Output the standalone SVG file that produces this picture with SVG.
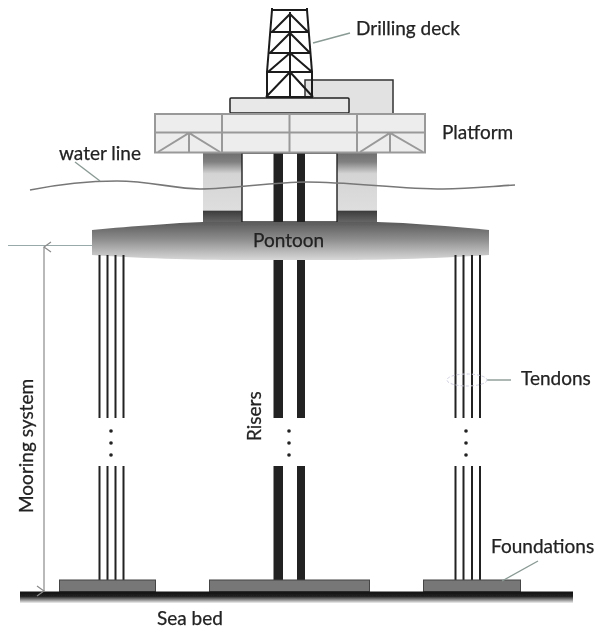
<svg xmlns="http://www.w3.org/2000/svg" width="600" height="635" viewBox="0 0 600 635">
<style>
text{font-family:"Lato","Carlito","Liberation Sans",sans-serif;font-size:19px;fill:#222;stroke:#222;stroke-width:.25}
.ten{stroke:#222;stroke-width:2;fill:none}
.rise{fill:#222}
.lead{stroke:#8a9a94;stroke-width:1.4;fill:none}
.plat{stroke:#999;stroke-width:2;fill:none}
.der{stroke:#1a1a1a;stroke-width:2;fill:none}
.found{fill:#777;stroke:#444;stroke-width:1}
.dot{fill:#222}
</style>
<defs>
<filter id="soft" x="0" y="0" width="600" height="635" filterUnits="userSpaceOnUse"><feGaussianBlur stdDeviation="0.45"/></filter>
<linearGradient id="col" x1="0" y1="0" x2="0" y2="1">
<stop offset="0" stop-color="#6f6f6f"/><stop offset=".13" stop-color="#808080"/><stop offset=".3" stop-color="#d4d4d4"/><stop offset=".83" stop-color="#dedede"/><stop offset=".84" stop-color="#3c3c3c"/><stop offset="1" stop-color="#666"/>
</linearGradient>
<linearGradient id="pon" x1="0" y1="0" x2="0" y2="1">
<stop offset="0" stop-color="#5a5a5a"/><stop offset=".45" stop-color="#8c8c8c"/><stop offset="1" stop-color="#d8d8d8"/>
</linearGradient>
<linearGradient id="bed" x1="0" y1="0" x2="0" y2="1">
<stop offset="0" stop-color="#111"/><stop offset=".4" stop-color="#222"/><stop offset="1" stop-color="#fff"/>
</linearGradient>
<marker id="open" markerWidth="12" markerHeight="12" refX="6" refY="1" orient="auto-start-reverse" markerUnits="userSpaceOnUse" viewBox="0 0 12 12">
<path d="M1 8L6 1L11 8" fill="none" stroke="#8a8a8a" stroke-width="1.2"/>
</marker>
</defs>
<g filter="url(#soft)">
<g id="back-box"><rect x="305" y="80" width="88" height="34" fill="#e2e2e2" stroke="#333" stroke-width="1.5"/></g>
<g id="derrick">
<path class="der" d="M272 8V10L267 72V97M307 8V10L312 72V97M272 10H307M270 32H309M268 53H311M266 72H313M266 97H313M290 12V97M290 14L272 32M290 14L308 32M290 33L270 53M290 33L310 53M290 53L268 72M290 53L312 72M290 72L266 97M290 72L313 97"/>
</g>
<g id="upper-deck"><rect x="230" y="98" width="119" height="15" rx="1" fill="#e8e8e8" stroke="#222" stroke-width="1.5"/></g>
<g id="columns">
<rect x="203" y="153" width="39" height="69" fill="url(#col)"/>
<rect x="337" y="153" width="40" height="69" fill="url(#col)"/>
<rect x="242" y="153" width="95" height="69" fill="#fff" stroke="#222" stroke-width="1.4"/>
</g>
<g id="risers">
<rect class="rise" x="273.500" y="153" width="9.500" height="265"/>
<rect class="rise" x="297" y="153" width="8" height="265"/>
<rect class="rise" x="273.500" y="466" width="9.500" height="114"/>
<rect class="rise" x="297" y="466" width="8" height="114"/>
<circle class="dot" cx="289" cy="431" r="1.800"/><circle class="dot" cx="289" cy="443" r="1.800"/><circle class="dot" cx="289" cy="455" r="1.800"/>
</g>
<g id="platform">
<rect x="155" y="114" width="270" height="38.500" fill="#ededed" stroke="#999" stroke-width="2"/>
<path class="plat" d="M155 132.500H425M222 114V152M289.500 114V152M357 114V152M189 133V152M158 152L189 133L220 152M390 133V152M360 152L390 133L423 152"/>
</g>
<g id="pontoon">
<path d="M92 230C135 226 175 223 203 222H377C410 223 450 226 489 230V255C450 258 380 260 340 260H240C200 260 130 258 92 255Z" fill="url(#pon)"/>
<text x="253" y="247">Pontoon</text>
</g>
<g id="tendons-left">
<path class="ten" d="M99.500 255V418M107.500 255V418M115.500 255V418M123.500 255V418M99.500 466V580M107.500 466V580M115.500 466V580M123.500 466V580"/>
<circle class="dot" cx="111" cy="431" r="1.800"/><circle class="dot" cx="111" cy="443" r="1.800"/><circle class="dot" cx="111" cy="455" r="1.800"/>
</g>
<g id="tendons-right">
<path class="ten" d="M455.500 255V418M463.500 255V418M472 255V418M480 255V418M455.500 466V580M463.500 466V580M472 466V580M480 466V580"/>
<circle class="dot" cx="466" cy="431" r="1.800"/><circle class="dot" cx="466" cy="443" r="1.800"/><circle class="dot" cx="466" cy="455" r="1.800"/>
</g>
<g id="foundations">
<rect class="found" x="59.500" y="580" width="96" height="11.500"/>
<rect class="found" x="209.500" y="580" width="160" height="11.500"/>
<rect class="found" x="423.500" y="580" width="97" height="11.500"/>
</g>
<g id="seabed"><rect x="20" y="591.500" width="553" height="12" fill="url(#bed)"/></g>
<g id="connectors">
<path d="M30 190C45 187 80 181 117 181C150 181 175 189 200 189C235 189 270 182 307 182C350 182 400 189 443 189C470 189 495 186 515 185" fill="none" stroke="#777" stroke-width="1.600"/>
<path class="lead" d="M75 162L100 181"/>
<path class="lead" d="M313 43L350 33"/>
<path class="lead" d="M487 380H511"/>
<ellipse cx="467" cy="380" rx="20" ry="6" fill="none" stroke="#ccd" stroke-width="1" stroke-dasharray="3 2"/>
<path class="lead" d="M538 561L502 581"/>
<path d="M8 245.500H92" fill="none" stroke="#9aa" stroke-width="1.200"/>
<path d="M44 247V591" fill="none" stroke="#8a8a8a" stroke-width="1.200" marker-start="url(#open)" marker-end="url(#open)"/>
</g>
<g id="labels">
<text x="356" y="35">Drilling deck</text>
<text x="442" y="139">Platform</text>
<text x="59" y="160">water line</text>
<text x="521" y="385">Tendons</text>
<text x="491" y="553">Foundations</text>
<text x="157" y="625">Sea bed</text>
<text transform="translate(33 513) rotate(-90)">Mooring system</text>
<text transform="translate(261 441) rotate(-90)">Risers</text>
</g>
</g>
</svg>
